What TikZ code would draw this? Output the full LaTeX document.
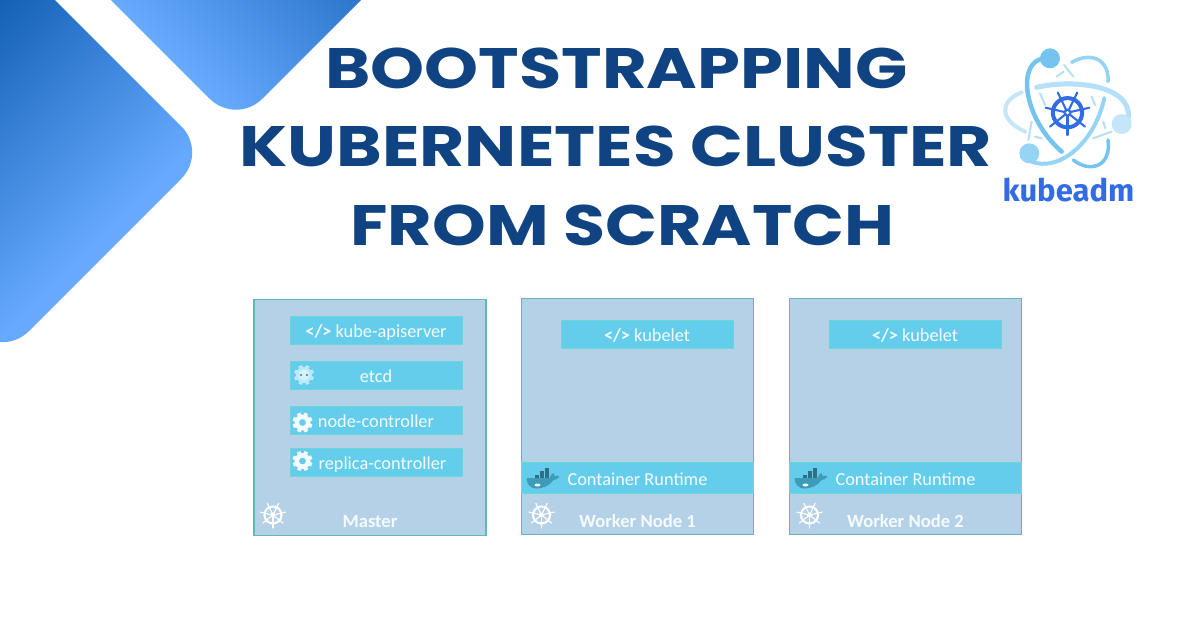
\documentclass[tikz,border=0pt]{standalone}
\usepackage{fontspec}
\setmainfont{Carlito}
\newfontfamily\titlefont{Poppins}
\newfontfamily\logofont{Fira Sans}
\usetikzlibrary{positioning}
\definecolor{navy}{HTML}{0F4382}
\definecolor{darkblue}{HTML}{1461B6}
\definecolor{midblue}{HTML}{2B74CA}
\definecolor{lightblue}{HTML}{66AAFF}
\definecolor{panelfill}{HTML}{B5D1E8}
\definecolor{paneledge}{HTML}{62B6BC}
\definecolor{barfill}{HTML}{64CDEC}
\definecolor{baredge}{HTML}{6CD5D8}
\definecolor{paper}{HTML}{F4FBFE}
\definecolor{logoblue}{HTML}{326CE5}
\definecolor{whalebody}{HTML}{3E9CB8}
\definecolor{whaletop}{HTML}{2F6F85}
\definecolor{orbita}{HTML}{75C4F0}
\definecolor{orbitb}{HTML}{96D4F5}
\definecolor{orbitc}{HTML}{B5E0F7}
\definecolor{orbitd}{HTML}{C5E6F8}
\tikzset{panel/.style={draw=paneledge,line width=1.5pt,fill=panelfill,minimum width=232pt,minimum height=236pt,inner sep=0pt}}
\tikzset{bar/.style={draw=baredge,line width=1pt,fill=barfill,text=paper,minimum width=172pt,minimum height=28pt,inner sep=0pt,text height=14pt,text depth=0pt,font=\fontsize{18.3}{18.3}\selectfont}}
\tikzset{runtime/.style={bar,minimum width=232pt,minimum height=31pt}}
\tikzset{caption/.style={text=paper,inner sep=0pt,font=\fontsize{18.6}{18.6}\selectfont\bfseries}}
\tikzset{headline/.style={text=navy,inner sep=0pt,transform shape,font=\fontsize{57}{57}\titlefont\bfseries}}
\tikzset{helm/.pic={
  \draw (0,0) circle (8.5pt);
  \fill (0,0) circle (2.4pt);
  \foreach \k in {0,...,6}
    \draw[line width=.72\pgflinewidth,line cap=round] (90+\k*360/7:1) -- (90+\k*360/7:13);
}}
\tikzset{gear/.pic={
  \foreach \k in {0,...,7}
    \draw[line width=3.8pt] (\k*45+22:5) -- (\k*45+22:10);
  \fill[even odd rule] (0,0) circle (8pt) (0,0) circle (3.5pt);
}}
\tikzset{whale/.pic={
  \fill[whaletop] (-11,-3) rectangle (-6.5,0);
  \fill[whaletop] (-6,-7) rectangle (-1.5,0);
  \fill[whaletop] (-1,-10) rectangle (3.5,0);
  \fill[whalebody] (-19,0) -- (4,0) .. controls (5,-3) and (7,-5) .. (8,-5)
    .. controls (9,-4) and (9,-3) .. (9,-2) .. controls (11,-3) and (13,-2) .. (14,-1.5)
    .. controls (12,1) and (10,2) .. (8,2) .. controls (4,8) and (-3,10.5) .. (-9,10.5)
    .. controls (-16,10.5) and (-19,5) .. cycle;
  \fill[paper] (-8,7) ellipse (3pt and 1.5pt);
}}
\begin{document}
\begin{tikzpicture}[x=1pt,y=-1pt,on grid]
  \useasboundingbox (0,0) rectangle (1200,627);
  \fill[white] (0,0) rectangle (1200,627);
  % corner shapes
  \begin{scope}
    \clip (0,0) rectangle (1200,627);
    \begin{scope}
      \clip[rounded corners=37pt] (-100,-155) -- (207.5,152.5) -- (2.5,357.5) -- (-300,55) -- cycle;
      \shade[top color=darkblue,bottom color=lightblue,middle color=lightblue,shading angle=45] (-70.5,-70.5) rectangle (410.5,410.5);
    \end{scope}
    \begin{scope}
      \clip[rounded corners=37pt] (61,-50) -- (236,125) -- (411,-50) -- cycle;
      \shade[top color=midblue,bottom color=lightblue,middle color=lightblue,shading angle=-45] (56.5,-58.5) rectangle (415.5,300.5);
    \end{scope}
  \end{scope}
  % title
  \node(lineone)[headline,xscale=1.205] at (616.5,68){BOOTSTRAPPING};
  \node(linetwo)[headline,xscale=1.217] at (615.5,146){KUBERNETES CLUSTER};
  \node(linethree)[headline,xscale=1.198] at (622.5,225){FROM SCRATCH};
  % master
  \node(master)[panel] at (370,417.5){};
  \node(apiserver)[bar] at (376,330.5){\textbf{</>} kube-apiserver};
  \node(etcd)[bar,below=44.75pt of apiserver]{etcd};
  \node(nodectl)[bar,below=44.75pt of etcd]{node-controller};
  \node(replica)[bar,below=42pt of nodectl]{\hspace*{13pt}replica-controller};
  \node(mastertext)[caption] at (370,521.5){Master};
  % workers
  \node(workerone)[panel,right=267.5pt of master,yshift=1pt]{};
  \node(kubeletone)[bar] at (647,334){\textbf{</>} kubelet};
  \node(runtimeone)[runtime] at (637.5,478){Container Runtime};
  \node(onetext)[caption] at (637.5,521){Worker Node 1};
  \node(workertwo)[panel,right=268pt of workerone]{};
  \node(kubelettwo)[bar,right=268pt of kubeletone]{\textbf{</>} kubelet};
  \node(runtimetwo)[runtime,right=268pt of runtimeone]{Container Runtime};
  \node(twotext)[caption,right=268pt of onetext]{Worker Node 2};
  % icons
  \pic[white,line width=2.1pt] at (273,515) {helm};
  \pic[white,line width=2.1pt] at (541.5,515) {helm};
  \pic[white,line width=2.1pt] at (809.5,515) {helm};
  \pic[paper] at (302.5,422.5) {gear};
  \pic[paper] at (302.5,461) {gear};
  \pic[paper!60!barfill] at (304,375) {gear};
  \fill[paper!80!barfill] (304,375) circle (5.5pt);
  \fill[barfill!60!black] (301,375) circle (1.2pt) (307,375) circle (1.2pt);
  \pic at (545.5,478) {whale};
  \pic at (813.5,478) {whale};
  % logo
  \begin{scope}[shift={(990,30)},x=.3333pt,y=-.3333pt,line cap=round]
    \draw[line width=3.5pt,orbitb] (245,97) .. controls (300,65) and (358,85) .. (354,155);
    \draw[line width=4pt,orbitb] (125,395) .. controls (200,425) and (310,350) .. (343,205);
    \fill[orbitb] (118,370) circle (10pt);
    \draw[line width=3.5pt,orbita] (250,390) .. controls (300,430) and (365,410) .. (354,330);
    \draw[line width=5pt,orbitc] (140,172) .. controls (260,145) and (425,170) .. (415,262);
    \fill[orbitd] (395,282) circle (10pt);
    \draw[line width=4pt,orbitd] (95,187) .. controls (25,215) and (30,270) .. (105,305);
    \draw[line width=4.5pt,orbita] (165,85) .. controls (80,90) and (95,260) .. (215,365);
    \fill[orbita] (180,85) circle (10pt);
    \foreach \ax/\ay/\bx/\by in {200/140/220/125,222/105/250/140,150/190/165/225,305/200/315/225,340/275/346/295,310/325/365/305,115/330/125/275,135/320/155/325}
      \draw[line width=2pt,orbitc] (\ax,\ay) -- (\bx,\by);
  \end{scope}
  \pic[logoblue,line width=4pt,scale=1.72] at (1067.5,112.7) {helm};
  \fill[white] (1067.5,112.7) circle (1.8pt);
  \node(logotext)[text=logoblue,inner sep=0pt,font=\fontsize{31}{31}\logofont\bfseries] at (1068.5,189.5){kubeadm};
\end{tikzpicture}
\end{document}
